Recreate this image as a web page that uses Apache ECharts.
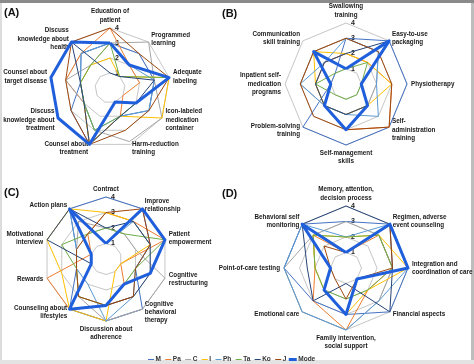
<!DOCTYPE html>
<html><head><meta charset="utf-8">
<script src="https://cdn.jsdelivr.net/npm/echarts@6/dist/echarts.min.js"></script>
<style>html,body{margin:0;padding:0;background:#fff}#c{width:474px;height:364px}</style>
</head><body><div id="c"></div>
<script>
// ---- series names (legend) ----
const seriesNames = ['M', 'Pa', 'C', 'I', 'Ph', 'Ta', 'Ko', 'J', 'Mode'];
const tickLabels = ['1', '2', '3', '4'];

// ---- Panel A (axes listed clockwise from the top) ----
const axesA = ['Education of\npatient', 'Programmed\nlearning', 'Adequate\nlabeling', 'Icon-labeled\nmedication\ncontainer', 'Harm-reduction\ntraining', 'Counsel about\ntreatment', 'Discuss\nknowledge about\ntreatment', 'Counsel about\ntarget disease', 'Discuss\nknowledge about\nhealth'];
const A_M    = [3, 3, 3, 3, 2, 4, 3, 2, 3];
const A_Pa   = [4, 2, 2, 1, 2, 4, 2, 3, 3];
const A_C    = [3, 4, 3, 4, 3.8, 3, 2, 3, 2];
const A_I    = [2, 1, 4, 4, 2, 4, 2, 2, 2];
const A_Ph   = [3, 2, 3, 3, 2, 3, 2, 2, 3];
const A_Ta   = [3, 1, 4, 2, 2, 3, 2, 2, 2];
const A_Ko   = [1, 1, 3, 2, 2, 4, 2, 2, 4];
const A_J    = [4, 3, 4, 3, 3, 4, 3, 3, 4];
const A_Mode = [3, 2, 4, 2, 1, 4, 4, 4, 4];

// ---- Panel B ----
const axesB = ['Swallowing\ntraining', 'Easy-to-use\npackaging', 'Physiotherapy', 'Self-\nadministration\ntraining', 'Self-management\nskills', 'Problem-solving\ntraining', 'Inpatient self-\nmedication\nprograms', 'Communication\nskill training'];
const B_M    = [3, 4, 4, 4, 4, 4, 1, 1];
const B_Pa   = [2, 2, 3, 4, 3, 2, 2, 2];
const B_C    = [3, 3, 2, 2, 2, 2, 3, 3];
const B_I    = [2, 2, 3, 2, 2, 2, 2, 3];
const B_Ph   = [3, 3, 2, 3, 2, 2, 3, 2];
const B_Ta   = [1, 2, 1, 1, 1, 1, 2, 1];
const B_Ko   = [2, 4, 1, 2, 2, 2, 2, 2];
const B_J    = [3, 3, 3, 4, 3, 3, 3, 3];
const B_Mode = [1, 4, 1, 2, 3, 2, 1, 3];

// ---- Panel C ----
const axesC = ['Contract', 'Improve\nrelationship', 'Patient\nempowerment', 'Cognitive\nrestructuring', 'Cognitive\nbehavioral\ntherapy', 'Discussion about\nadherence', 'Counseling about\nlifestyles', 'Rewards', 'Motivational\ninterview', 'Action plans'];
const C_M    = [4, 4, 3, 2, 4, 4, 4, 2, 2, 4];
const C_Pa   = [3, 3, 4, 1, 2, 3, 4, 4, 1, 2];
const C_C    = [2, 2, 2, 4, 4, 4, 3, 2, 2, 3];
const C_I    = [3, 3, 3, 1, 1, 4, 4, 3, 4, 4];
const C_Ph   = [1, 3, 3, 2, 3, 4, 2, 2, 2, 4];
const C_Ta   = [2, 2, 4, 2, 2, 3, 3, 2, 3, 2];
const C_Ko   = [2, 3, 3, 3, 3, 3, 4, 1, 4, 4];
const C_J    = [3, 4, 3, 2, 3, 3, 3, 2, 2, 2];
const C_Mode = [1, 4, 4, 3, 2, 3, 4, 1, 1, 4];

// ---- Panel D ----
const axesD = ['Memory, attention,\ndecision process', 'Regimen, adverse\nevent counseling', 'Integration and\ncoordination of care', 'Financial aspects', 'Family intervention,\nsocial support', 'Emotional care', 'Point-of-care testing', 'Behavioral self\nmonitoring'];
const D_M    = [3, 4, 4, 4, 3, 3, 4, 4];
const D_Pa   = [1, 3, 3, 2, 4, 3, 2, 3];
const D_C    = [3, 3, 3, 3, 4, 4, 4, 3];
const D_I    = [2, 3, 4, 2, 3, 2, 2, 3];
const D_Ph   = [2, 4, 4, 3, 4, 4, 4, 4];
const D_Ta   = [2, 3, 3, 2, 2, 2, 2, 3];
const D_Ko   = [4, 4, 3, 4, 1, 3, 2.5, 4];
const D_J    = [1, 4, 3, 1, 2, 1, 1, 2];
const D_Mode = [1, 4, 4, 1, 3, 2, 1, 4];

// ---- styling ----
const colors = ['#4472C4', '#ED7D31', '#A5A5A5', '#FFC000', '#5B9BD5', '#70AD47', '#264478', '#9E480E', '#1F5FDC'];
const FONT = 'Liberation Sans';

const panels = [
  {axes: axesA, vals: [A_M, A_Pa, A_C, A_I, A_Ph, A_Ta, A_Ko, A_J, A_Mode], center: [110, 88], radius: 60},
  {axes: axesB, vals: [B_M, B_Pa, B_C, B_I, B_Ph, B_Ta, B_Ko, B_J, B_Mode], center: [346, 84], radius: 61},
  {axes: axesC, vals: [C_M, C_Pa, C_C, C_I, C_Ph, C_Ta, C_Ko, C_J, C_Mode], center: [106, 259], radius: 62},
  {axes: axesD, vals: [D_M, D_Pa, D_C, D_I, D_Ph, D_Ta, D_Ko, D_J, D_Mode], center: [346, 268], radius: 62}
];

// ECharts lays radar indicators out counter-clockwise; reorder so they run clockwise.
const cw = arr => [arr[0]].concat(arr.slice(1).reverse());

const radars = panels.map(p => ({
  center: p.center, radius: p.radius, startAngle: 90, shape: 'polygon', splitNumber: 4,
  axisNameGap: 4,
  axisName: {color: '#1a1a1a', fontSize: 6.3, fontWeight: 'bold', fontFamily: FONT, lineHeight: 8.3},
  splitLine: {lineStyle: {color: '#c6c6c6', width: 1}},
  splitArea: {show: false},
  axisLine: {show: false},
  axisTick: {show: false},
  axisLabel: {show: false},
  indicator: cw(p.axes).map((n, i) => i === 0
    ? {name: n, min: 0, max: 4, axisLabel: {show: true, align: 'left', margin: -5, color: '#222', fontSize: 7, fontWeight: 'bold', fontFamily: FONT,
        formatter: v => (v >= 1 ? tickLabels[v - 1] : '')}}
    : {name: n, min: 0, max: 4})
}));

const series = panels.map((p, ri) => ({
  type: 'radar', radarIndex: ri, symbol: 'none', silent: true, animation: false,
  data: p.vals.map((v, k) => ({
    name: seriesNames[k], value: cw(v),
    lineStyle: {color: colors[k], width: k === 8 ? 3 : 1},
    itemStyle: {color: colors[k]}
  }))
}));

const thinIcon = 'path://M0,0M2,1h6v1h-6zM8,3';
const thickIcon = 'path://M0,0h8v3h-8z';

const option = {
  backgroundColor: '#ffffff',
  animation: false,
  radar: radars,
  series: series,
  legend: {
    left: 141, top: 351, itemWidth: 8, itemHeight: 3, itemGap: 2.4,
    selectedMode: false,
    textStyle: {fontSize: 6.5, fontWeight: 'bold', color: '#333', fontFamily: FONT, padding: [0, 0, 0, -3.5]},
    data: seriesNames.map((n, k) => ({name: n, icon: k === 8 ? thickIcon : thinIcon, itemStyle: {color: colors[k]}}))
  },
  graphic: [
    {type: 'rect', shape: {x: 0, y: 0, width: 474, height: 3}, style: {fill: '#8a8a8a'}, silent: true},
    {type: 'rect', shape: {x: 0, y: 3, width: 2, height: 361}, style: {fill: '#dcdcdc'}, silent: true},
    {type: 'rect', shape: {x: 471, y: 3, width: 3, height: 361}, style: {fill: '#bdbdbd'}, silent: true},
    {type: 'rect', shape: {x: 0, y: 360, width: 474, height: 4}, style: {fill: '#e3e3e3'}, silent: true},
    {type: 'text', left: 4, top: 7, style: {text: '(A)', fontSize: 11, fontWeight: 'bold', fill: '#111', fontFamily: FONT}},
    {type: 'text', left: 222, top: 8, style: {text: '(B)', fontSize: 11, fontWeight: 'bold', fill: '#111', fontFamily: FONT}},
    {type: 'text', left: 4, top: 187, style: {text: '(C)', fontSize: 11, fontWeight: 'bold', fill: '#111', fontFamily: FONT}},
    {type: 'text', left: 222, top: 188, style: {text: '(D)', fontSize: 11, fontWeight: 'bold', fill: '#111', fontFamily: FONT}}
  ]
};

const chart = echarts.init(document.getElementById('c'), null, {renderer: 'canvas'});
chart.setOption(option);
</script>
</body></html>
